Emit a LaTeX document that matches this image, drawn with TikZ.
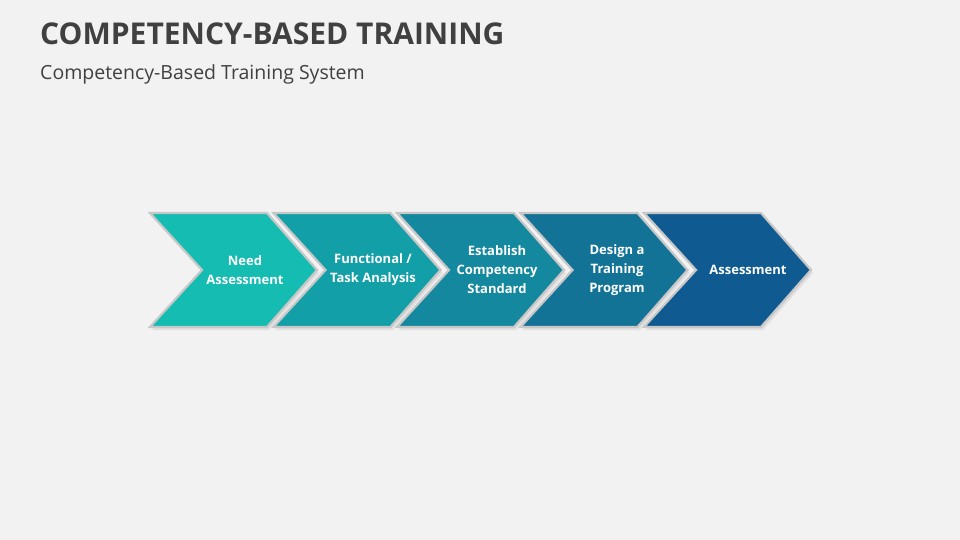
\documentclass[tikz,border=0pt]{standalone}
\usepackage{fontspec}
\setmainfont{Open Sans}
\usetikzlibrary{positioning}

\definecolor{bgcol}{HTML}{F2F2F2}
\definecolor{titlecol}{HTML}{404040}
\definecolor{cA}{HTML}{14BCB1}
\definecolor{cB}{HTML}{139FA7}
\definecolor{cC}{HTML}{13889E}
\definecolor{cD}{HTML}{137397}
\definecolor{cE}{HTML}{0E5A91}

\tikzset{
  chev/.style={line width=2.2pt, draw=black!22, line join=miter},
  steptext/.style={text=white, font=\bfseries\fontsize{13}{19}\selectfont, align=center}
}

\begin{document}
\begin{tikzpicture}[x=1pt, y=-1pt]
    \fill[bgcol] (0,0) rectangle (960,540);
    \useasboundingbox (0,0) rectangle (960,540);

    \node[anchor=west, inner xsep=0pt, text=titlecol, font=\bfseries\fontsize{30}{36}\selectfont] at (40,34) (title) {COMPETENCY-BASED TRAINING};
    \node[anchor=west, inner xsep=0pt, text=titlecol, font=\fontsize{19.5}{23}\selectfont] at (40,74) (subtitle) {Competency-Based Training System};

    % chevrons
    \foreach \i/\col in {0/cA, 1/cB, 2/cC, 3/cD, 4/cE} {
        \pgfmathsetmacro{\xs}{150+123.5*\i}
        \fill[black!12] (\xs+2,216) -- (\xs+119,216) -- (\xs+169,273) -- (\xs+119,330) -- (\xs+2,330) -- (\xs+54,273) -- cycle;
        \draw[chev, fill=\col] (\xs,213) -- (\xs+117,213) -- (\xs+167,270) -- (\xs+117,327) -- (\xs,327) -- (\xs+52,270) -- cycle;
    }

    \node[steptext] at (245,270) (need) {Need\\Assessment};
    \node[steptext] at (373,270) (task) {Functional /\\Task Analysis};
    \node[steptext] at (497,270) (standard) {Establish\\Competency\\Standard};
    \node[steptext] at (617,270) (design) {Design a\\Training\\Program};
    \node[steptext] at (748,270) (assess) {Assessment};
\end{tikzpicture}
\end{document}
